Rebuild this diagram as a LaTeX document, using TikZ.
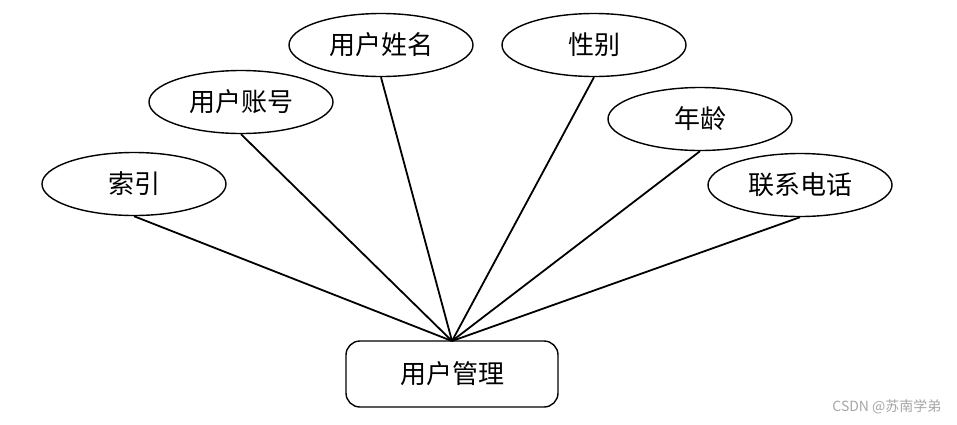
\documentclass[tikz,border=0pt]{standalone}
\usepackage{fontspec}
\newfontfamily\cjk{Noto Sans CJK SC}
\usetikzlibrary{shapes.geometric}
\begin{document}
\begin{tikzpicture}[x=1pt,y=-1pt,
  attr/.style={ellipse,draw,line width=1.4pt,minimum width=184pt,minimum height=63pt,inner sep=0pt,font=\cjk\fontsize{26}{30}\selectfont},
  ent/.style={rectangle,rounded corners=14pt,draw,line width=1.4pt,minimum width=212pt,minimum height=66pt,font=\cjk\fontsize{26}{30}\selectfont},
  link/.style={line width=1.8pt}]
\useasboundingbox (0,0) rectangle (957,424);
\node[attr] (a1) at (134,184) {索引};
\node[attr] (a2) at (241,102) {用户账号};
\node[attr] (a3) at (381,45) {用户姓名};
\node[attr] (a4) at (594,45) {性别};
\node[attr] (a5) at (700,119) {年龄};
\node[attr] (a6) at (800,185) {联系电话};
\node[ent] (e) at (452,374) {用户管理};
\coordinate (c) at (452,341);
\foreach \n in {a1,a2,a3,a4,a5,a6} \draw[link] (\n.south) -- (c);
\node[font=\cjk\fontsize{14}{16}\selectfont,text=gray!70,anchor=east] (w) at (945,407) {CSDN @苏南学弟};
\end{tikzpicture}
\end{document}
